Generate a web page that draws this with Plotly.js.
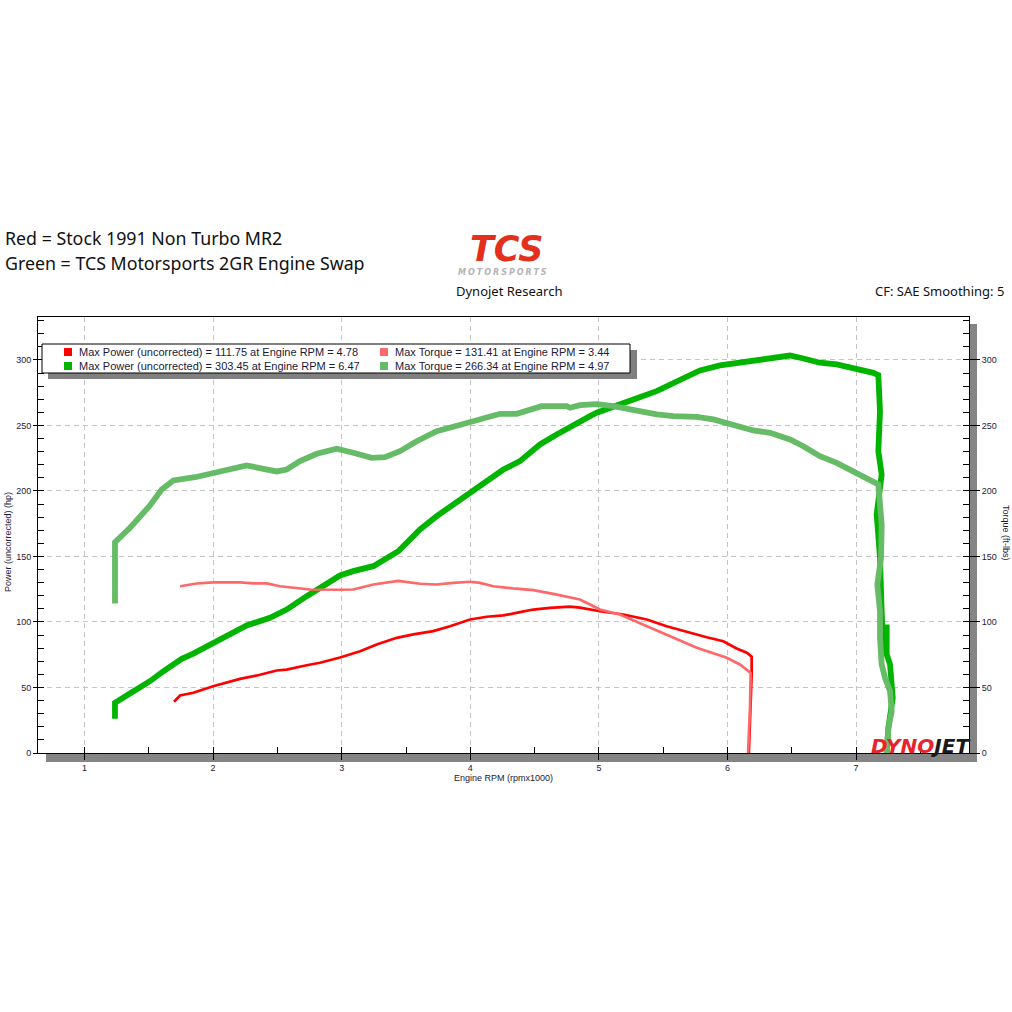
<!DOCTYPE html>
<html><head><meta charset="utf-8">
<script src="https://cdn.plot.ly/plotly-3.0.1.min.js"></script>
<style>html,body{margin:0;padding:0;background:#fff}#chart{width:1012px;height:1012px}</style>
</head><body><div id="chart"></div>
<script>
// ---- Data (Engine RPM x1000) ----
const rpmRedPower = [1.696,1.743,1.846,2.0,2.209,2.365,2.494,2.572,2.728,2.831,2.987,3.143,3.272,3.428,3.557,3.712,3.842,3.998,4.128,4.257,4.386,4.490,4.620,4.775,4.853,4.931,5.008,5.190,5.372,5.527,5.683,5.838,5.967,6.071,6.150,6.188,6.188,6.175,6.166];
const hpRed       = [39.1,43.9,46.0,51.0,56.6,59.7,63.0,63.7,67.0,68.9,72.9,77.7,82.8,87.9,90.5,93.0,96.8,101.9,104.0,105.0,107.5,109.5,110.8,111.7,111.0,109.5,108.2,105.7,101.9,96.8,92.5,88.4,85.3,79.8,76.5,73.5,60.0,30.0,0];

const rpmRedTorque = [1.743,1.872,2.0,2.209,2.313,2.417,2.520,2.754,2.987,3.090,3.246,3.440,3.609,3.739,3.868,3.998,4.075,4.179,4.334,4.490,4.645,4.853,4.931,5.008,5.163,5.372,5.553,5.761,5.994,6.097,6.180,6.175,6.160];
const tqRed        = [127.3,129.4,130.2,130.2,129.4,129.4,127.3,124.8,124.6,124.8,128.6,131.4,129.2,128.6,129.9,130.7,129.9,127.3,125.6,124.3,121.5,117.2,113.4,109.5,105.7,96.8,89.2,80.3,72.7,67.6,61.2,35.0,0];

const rpmGreenPower = [1.237,1.237,1.328,1.432,1.509,1.613,1.756,1.846,2.0,2.106,2.261,2.442,2.572,2.728,2.883,2.987,3.090,3.246,3.440,3.609,3.739,3.868,3.998,4.075,4.257,4.386,4.542,4.672,4.801,4.853,4.931,4.983,5.112,5.268,5.449,5.631,5.786,5.942,6.097,6.253,6.331,6.486,6.590,6.719,6.849,7.005,7.134,7.173,7.186,7.173,7.199,7.160,7.186,7.199,7.212,7.238,7.238,7.264,7.285,7.251,7.238];
const hpGreen       = [26.1,38.3,43.9,49.5,54.8,62.4,71.9,75.9,84.1,89.2,97.3,103.2,109.5,119.7,129.9,135.5,138.8,142.6,154.0,170.6,180.8,189.7,198.6,205.0,216.4,222.8,235.5,243.1,249.5,252.0,257.1,259.7,264.7,269.8,276.2,285.1,292.0,295.8,297.9,300.4,301.7,303.4,301.1,297.9,296.6,293.5,290.2,288.4,260.9,230.4,212.6,182.1,149.0,108.2,75.5,98.1,75.2,67.6,42.1,19.2,0];

const rpmGreenTorque = [1.237,1.237,1.354,1.509,1.600,1.691,1.859,2.0,2.079,2.183,2.261,2.352,2.494,2.572,2.676,2.806,2.961,3.090,3.233,3.337,3.453,3.583,3.739,3.868,3.998,4.128,4.231,4.361,4.464,4.555,4.750,4.775,4.853,4.983,5.112,5.268,5.449,5.579,5.761,5.890,6.019,6.201,6.331,6.486,6.590,6.719,6.849,7.005,7.108,7.173,7.186,7.199,7.194,7.165,7.186,7.186,7.199,7.225,7.264,7.277,7.251,7.238];
const tqGreen        = [114.1,160.9,171.9,188.9,201.1,208.0,210.5,213.4,215.1,217.9,219.5,217.7,214.9,216.4,222.8,228.4,232.2,229.2,225.3,225.8,230.4,238.0,245.7,249.0,252.5,255.9,258.9,258.9,261.5,264.7,264.7,263.5,265.5,266.3,264.7,261.5,258.4,257.1,256.6,254.6,250.8,246.2,244.4,239.3,234.2,226.6,221.5,213.9,208.8,205.0,189.7,173.9,149.0,128.6,108.2,87.9,67.6,57.4,47.2,31.9,19.2,0];

// ---- Legend contents ----
const legendNames = ['Max Power (uncorrected)','Max Torque','Max Power (uncorrected)','Max Torque'];
const legendMax   = [111.75, 131.41, 303.45, 266.34];
const legendRpm   = [4.78, 3.44, 6.47, 4.97];
const seriesColors = ['#ff0000','#ff6868','#00b400','#66bb66'];

// ---- Text ----
const titleLines = ['Red = Stock 1991 Non Turbo MR2','Green = TCS Motorsports 2GR Engine Swap'];
const subTitle = 'Dynojet Research';
const cfText = 'CF: SAE Smoothing: 5';
const xTitle = 'Engine RPM (rpmx1000)';
const yTitle = 'Power (uncorrected) (hp)';
const y2Title = 'Torque (ft-lbs)';

// ---- Geometry helpers (pixel -> paper) ----
const L = 38, T = 317, W = 931, H = 436;
const px = v => (v - L) / W;
const py = v => (T + H - v) / H;

const yRange = [0, 332.8];
const xRange = [0.6384, 7.878];
const tickFont = {family:'Liberation Sans, Arial, sans-serif', size:9, color:'#1a1a3a'};

const traces = [
  {x: rpmRedPower, y: hpRed, type:'scatter', mode:'lines', line:{color:seriesColors[0], width:2.7}, yaxis:'y', hoverinfo:'skip'},
  {x: rpmRedTorque, y: tqRed, type:'scatter', mode:'lines', line:{color:seriesColors[1], width:2.7}, yaxis:'y2', hoverinfo:'skip'},
  {x: rpmGreenPower, y: hpGreen, type:'scatter', mode:'lines', line:{color:seriesColors[2], width:5.8}, yaxis:'y', hoverinfo:'skip'},
  {x: rpmGreenTorque, y: tqGreen, type:'scatter', mode:'lines', line:{color:seriesColors[3], width:5.8}, yaxis:'y2', hoverinfo:'skip'},
  {x:[null], y:[null], type:'scatter', mode:'lines', yaxis:'y3', hoverinfo:'skip'},
  {x:[null], y:[null], type:'scatter', mode:'lines', yaxis:'y4', hoverinfo:'skip'}
];

const shapes = [
  // plot drop shadow
  {type:'rect', xref:'paper', yref:'paper', x0:px(969), x1:px(977), y0:py(762), y1:py(324), fillcolor:'#858585', line:{width:0}, layer:'below'},
  {type:'rect', xref:'paper', yref:'paper', x0:px(46), x1:px(977), y0:py(762), y1:py(753), fillcolor:'#858585', line:{width:0}, layer:'below'},
  // legend shadow + box
  {type:'rect', xref:'paper', yref:'paper', x0:px(48), x1:px(637), y0:py(379), y1:py(350), fillcolor:'#808080', line:{width:0}},
  {type:'rect', xref:'paper', yref:'paper', x0:px(42), x1:px(630), y0:py(373), y1:py(344), fillcolor:'#ffffff', line:{color:'#000', width:1}}
];

const annotations = [];
const colX = [68, 384], rowY = [352, 366];
legendNames.forEach((n, i) => {
  const c = i % 2, r = Math.floor(i / 2);
  shapes.push({type:'rect', xref:'paper', yref:'paper', x0:px(colX[c]-4), x1:px(colX[c]+4), y0:py(rowY[r]+4), y1:py(rowY[r]-4), fillcolor:seriesColors[i], line:{width:0}});
  annotations.push({xref:'paper', yref:'paper', x:px(colX[c]+9), y:py(rowY[r]), xanchor:'left', yanchor:'middle', showarrow:false,
    text: n + ' = ' + legendMax[i].toFixed(2) + ' at Engine RPM = ' + legendRpm[i].toFixed(2),
    font:{family:'Liberation Sans, Arial, sans-serif', size:11, color:'#1a1a3a'}});
});

const titleFont = {family:'Noto Sans, sans-serif', size:17.8, color:'#111'};
annotations.push(
  {xref:'paper', yref:'paper', x:px(3), y:py(238), xanchor:'left', yanchor:'middle', showarrow:false, text:titleLines[0], font:titleFont},
  {xref:'paper', yref:'paper', x:px(3), y:py(263), xanchor:'left', yanchor:'middle', showarrow:false, text:titleLines[1], font:titleFont},
  {xref:'paper', yref:'paper', x:px(509), y:py(291), xanchor:'center', yanchor:'middle', showarrow:false, text:subTitle, font:{family:'Noto Sans, sans-serif', size:13, color:'#111'}},
  {xref:'paper', yref:'paper', x:px(1006), y:py(291), xanchor:'right', yanchor:'middle', showarrow:false, text:cfText, font:{family:'Noto Sans, sans-serif', size:13, color:'#111'}},
  {xref:'paper', yref:'paper', x:px(507), y:py(249), xanchor:'center', yanchor:'middle', showarrow:false, text:'<b><i>TCS</i></b>', font:{family:'DejaVu Sans, sans-serif', size:35, color:'#e2301c'}},
  {xref:'paper', yref:'paper', x:px(503), y:py(272), xanchor:'center', yanchor:'middle', showarrow:false, text:'<b><i><span style="letter-spacing:2px">MOTORSPORTS</span></i></b>', font:{family:'DejaVu Sans, sans-serif', size:8, color:'#b4b4b4'}},
  {xref:'paper', yref:'paper', x:px(920), y:py(746), xanchor:'center', yanchor:'middle', showarrow:false, text:'<b><i><span style="color:#e8232d">DYNO</span>JET</i></b>', font:{family:'DejaVu Sans, sans-serif', size:20, color:'#1a1a1a'}},
  {xref:'paper', yref:'paper', x:px(503), y:py(778), xanchor:'center', yanchor:'middle', showarrow:false, text:xTitle, font:{family:'Liberation Sans, Arial, sans-serif', size:9, color:'#1a1a3a'}},
  {xref:'paper', yref:'paper', x:px(8), y:py(542), xanchor:'center', yanchor:'middle', showarrow:false, textangle:-90, text:yTitle, font:{family:'Liberation Sans, Arial, sans-serif', size:9, color:'#1a1a3a'}},
  {xref:'paper', yref:'paper', x:px(1006), y:py(533), xanchor:'center', yanchor:'middle', showarrow:false, textangle:90, text:y2Title, font:{family:'Liberation Sans, Arial, sans-serif', size:9, color:'#1a1a3a'}}
);

const grid = {showgrid:true, gridcolor:'#c4c4c4', gridwidth:1, griddash:'5px,4px'};

const layout = {
  width:1012, height:1012,
  margin:{l:L, r:1012-L-W, t:T, b:1012-T-H, pad:0},
  paper_bgcolor:'#ffffff', plot_bgcolor:'#ffffff',
  showlegend:false,
  font:{family:'Liberation Sans, Arial, sans-serif'},
  xaxis: Object.assign({range:xRange, autorange:false, tickmode:'linear', tick0:1, dtick:1, ticks:'outside', ticklen:6, tickcolor:'#000', tickwidth:1,
    showline:true, linecolor:'#000', linewidth:1, mirror:true, zeroline:false, tickfont:tickFont,
    minor:{ticks:'inside', tick0:0.5, dtick:0.5, ticklen:6, tickcolor:'#000', tickwidth:1, showgrid:false}}, grid),
  yaxis: Object.assign({range:yRange, autorange:false, tickmode:'linear', tick0:0, dtick:50, ticks:'outside', ticklen:4, tickcolor:'#000', tickwidth:1,
    showline:true, linecolor:'#000', linewidth:1, mirror:true, zeroline:false, tickfont:tickFont,
    minor:{ticks:'inside', tick0:0, dtick:10, ticklen:6, tickcolor:'#000', tickwidth:1, showgrid:false}}, grid),
  yaxis2: {overlaying:'y', side:'right', range:yRange, autorange:false, tickmode:'linear', tick0:0, dtick:50, ticks:'outside', ticklen:10, tickcolor:'#000', tickwidth:1,
    showline:false, showgrid:false, zeroline:false, tickfont:tickFont,
    minor:{ticks:'inside', tick0:0, dtick:10, ticklen:6, tickcolor:'#000', tickwidth:1, showgrid:false}},
  yaxis3: {overlaying:'y', side:'left', range:yRange, autorange:false, tickmode:'linear', tick0:0, dtick:50, ticks:'inside', ticklen:6, tickcolor:'#000',
    showticklabels:false, showline:false, showgrid:false, zeroline:false},
  yaxis4: {overlaying:'y', side:'right', range:yRange, autorange:false, tickmode:'linear', tick0:0, dtick:50, ticks:'inside', ticklen:6, tickcolor:'#000',
    showticklabels:false, showline:false, showgrid:false, zeroline:false},
  shapes: shapes,
  annotations: annotations
};

Plotly.newPlot('chart', traces, layout, {displayModeBar:false, staticPlot:true});
</script></body></html>
